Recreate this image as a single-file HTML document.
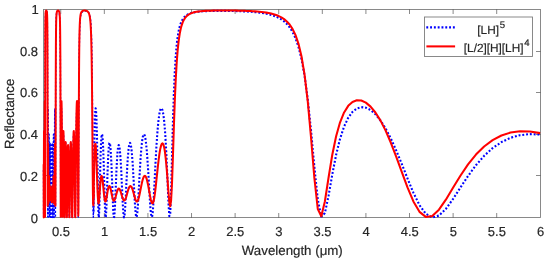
<!DOCTYPE html>
<html lang="en"><head><meta charset="utf-8"><title>Reflectance</title>
<style>html,body{margin:0;padding:0;background:#fff;width:550px;height:263px;overflow:hidden}</style>
</head><body>
<svg width="550" height="263" viewBox="0 0 550 263" style="position:absolute;left:0;top:0">
<rect x="0" y="0" width="550" height="263" fill="#fff"/>
<defs><clipPath id="c"><rect x="42.2" y="8.2" width="499.6" height="210.6"/></clipPath></defs>
<rect x="43.5" y="9.5" width="497.0" height="208.0" fill="none" stroke="#262626" stroke-width="0.9" stroke-opacity="0.6"/>
<path d="M60.74 217.5v-4.5 M60.74 9.5v4.5 M104.34 217.5v-4.5 M104.34 9.5v4.5 M147.93 217.5v-4.5 M147.93 9.5v4.5 M191.53 217.5v-4.5 M191.53 9.5v4.5 M235.12 217.5v-4.5 M235.12 9.5v4.5 M278.72 217.5v-4.5 M278.72 9.5v4.5 M322.32 217.5v-4.5 M322.32 9.5v4.5 M365.91 217.5v-4.5 M365.91 9.5v4.5 M409.51 217.5v-4.5 M409.51 9.5v4.5 M453.11 217.5v-4.5 M453.11 9.5v4.5 M496.70 217.5v-4.5 M496.70 9.5v4.5 M43.5 175.50h4.5 M540.5 175.50h-4.5 M43.5 134.50h4.5 M540.5 134.50h-4.5 M43.5 92.50h4.5 M540.5 92.50h-4.5 M43.5 51.50h4.5 M540.5 51.50h-4.5" stroke="#262626" stroke-width="0.9" stroke-opacity="0.6" fill="none"/>
<g clip-path="url(#c)" fill="none" stroke-linejoin="round">
<polyline points="43.51,170.01 43.53,179.12 43.56,188.83 43.59,198.45 43.61,207.07 43.64,213.61 43.67,217.11 43.69,216.93 43.72,213.03 43.75,205.95 43.77,196.66 43.80,186.23 43.83,175.65 43.85,165.66 43.88,156.76 43.91,149.23 43.93,143.18 43.96,138.68 43.99,135.72 44.02,134.30 44.04,134.43 44.07,136.13 44.10,139.44 44.12,144.43 44.15,151.12 44.18,159.51 44.21,169.47 44.23,180.63 44.26,192.27 44.29,203.25 44.32,212.01 44.35,216.91 44.37,216.71 44.40,211.12 44.43,200.96 44.46,187.82 44.49,173.46 44.51,159.36 44.54,146.48 44.57,135.36 44.60,126.18 44.63,118.97 44.66,113.66 44.68,110.19 44.71,108.52 44.74,108.69 44.77,110.82 44.80,115.14 44.83,121.99 44.86,131.86 44.89,145.24 44.92,162.43 44.94,182.72 44.97,203.01 45.00,216.27 45.03,213.45 45.06,191.25 45.09,157.17 45.12,122.42 45.15,93.58 45.18,71.91 45.21,56.29 45.24,45.14 45.27,37.14 45.30,31.32 45.33,27.03 45.36,23.80 45.39,21.35 45.42,19.44 45.45,17.95 45.48,16.77 45.51,15.81 45.54,15.04 45.57,14.41 45.60,13.88 45.63,13.44 45.66,13.07 45.69,12.76 45.72,12.50 45.75,12.27 45.79,12.08 45.82,11.91 45.85,11.77 45.88,11.64 45.91,11.53 45.94,11.44 45.97,11.36 46.00,11.29 46.04,11.23 46.07,11.17 46.10,11.13 46.13,11.09 46.16,11.06 46.19,11.04 46.23,11.02 46.26,11.00 46.29,11.00 46.32,10.99 46.35,11.00 46.39,11.00 46.42,11.02 46.45,11.03 46.48,11.06 46.52,11.09 46.55,11.12 46.58,11.17 46.61,11.22 46.65,11.28 46.68,11.35 46.71,11.43 46.75,11.52 46.78,11.63 46.81,11.75 46.85,11.89 46.88,12.06 46.91,12.25 46.95,12.47 46.98,12.73 47.01,13.04 47.05,13.40 47.08,13.83 47.11,14.34 47.15,14.96 47.18,15.72 47.22,16.65 47.25,17.80 47.28,19.26 47.32,21.10 47.35,23.49 47.39,26.61 47.42,30.77 47.46,36.39 47.49,44.10 47.53,54.84 47.56,69.89 47.60,90.80 47.63,118.84 47.67,153.14 47.70,187.81 47.74,211.87 47.77,216.88 47.81,204.97 47.84,185.05 47.88,164.54 47.91,146.94 47.95,133.14 47.99,122.92 48.02,115.75 48.06,111.18 48.09,108.82 48.13,108.44 48.17,109.91 48.20,113.18 48.24,118.28 48.28,125.28 48.31,134.23 48.35,145.15 48.39,157.84 48.42,171.85 48.46,186.24 48.50,199.60 48.54,210.18 48.57,216.33 48.61,217.13 48.65,212.75 48.68,204.33 48.72,193.52 48.76,181.89 48.80,170.64 48.84,160.53 48.87,151.96 48.91,145.07 48.95,139.90 48.99,136.41 49.03,134.54 49.07,134.24 49.10,135.48 49.14,138.27 49.18,142.60 49.22,148.48 49.26,155.85 49.30,164.61 49.34,174.49 49.38,185.03 49.42,195.52 49.45,204.99 49.49,212.36 49.53,216.64 49.57,217.24 49.61,214.13 49.65,207.88 49.69,199.45 49.73,189.89 49.77,180.15 49.81,170.96 49.85,162.78 49.89,155.89 49.94,150.42 49.98,146.41 50.02,143.88 50.06,142.80 50.10,143.18 50.14,145.00 50.18,148.26 50.22,152.95 50.26,159.05 50.31,166.44 50.35,174.95 50.39,184.21 50.43,193.69 50.47,202.63 50.51,210.13 50.56,215.28 50.60,217.36 50.64,216.09 50.68,211.67 50.73,204.75 50.77,196.22 50.81,186.99 50.85,177.84 50.90,169.35 50.94,161.89 50.98,155.70 51.03,150.87 51.07,147.45 51.11,145.46 51.16,144.89 51.20,145.74 51.25,148.01 51.29,151.70 51.33,156.80 51.38,163.25 51.42,170.93 51.47,179.60 51.51,188.82 51.56,198.00 51.60,206.31 51.65,212.82 51.69,216.69 51.74,217.32 51.78,214.61 51.83,208.94 51.87,201.09 51.92,191.96 51.96,182.46 52.01,173.30 52.06,164.97 52.10,157.80 52.15,151.97 52.20,147.54 52.24,144.54 52.29,143.00 52.34,142.90 52.38,144.24 52.43,147.06 52.48,151.34 52.52,157.09 52.57,164.24 52.62,172.64 52.67,181.98 52.71,191.75 52.76,201.18 52.81,209.29 52.86,215.02 52.91,217.45 52.95,216.14 53.00,211.21 53.05,203.35 53.10,193.61 53.15,183.04 53.20,172.57 53.25,162.87 53.30,154.36 53.35,147.26 53.40,141.67 53.45,137.63 53.50,135.13 53.55,134.18 53.60,134.77 53.65,136.95 53.70,140.75 53.75,146.25 53.80,153.46 53.85,162.34 53.90,172.71 53.95,184.11 54.00,195.69 54.06,206.18 54.11,213.96 54.16,217.42 54.21,215.59 54.26,208.49 54.31,197.25 54.37,183.56 54.42,169.14 54.47,155.33 54.53,142.94 54.58,132.39 54.63,123.80 54.68,117.17 54.74,112.42 54.79,109.49 54.85,108.37 54.90,109.11 54.95,111.87 55.01,116.90 55.06,124.61 55.12,135.48 55.17,150.01 55.23,168.28 55.28,189.07 55.34,208.17 55.39,217.46 55.45,208.64 55.50,181.66 55.56,146.30 55.61,112.93 55.67,86.28 55.73,66.60 55.78,52.49 55.84,42.42 55.90,35.17 55.95,29.87 56.01,25.94 56.07,22.98 56.13,20.71 56.18,18.95 56.24,17.56 56.30,16.45 56.36,15.56 56.42,14.83 56.47,14.23 56.53,13.73 56.59,13.32 56.65,12.97 56.71,12.67 56.77,12.42 56.83,12.21 56.89,12.02 56.95,11.86 57.01,11.72 57.07,11.60 57.13,11.50 57.19,11.41 57.25,11.33 57.31,11.26 57.37,11.21 57.43,11.16 57.50,11.11 57.56,11.08 57.62,11.05 57.68,11.03 57.74,11.01 57.81,11.00 57.87,10.99 57.93,10.99 57.99,11.00 58.06,11.00 58.12,11.02 58.19,11.04 58.25,11.06 58.31,11.10 58.38,11.13 58.44,11.18 58.51,11.23 58.57,11.30 58.64,11.37 58.70,11.45 58.77,11.55 58.83,11.66 58.90,11.79 58.97,11.93 59.03,12.11 59.10,12.31 59.17,12.54 59.23,12.81 59.30,13.13 59.37,13.51 59.44,13.96 59.50,14.50 59.57,15.16 59.64,15.96 59.71,16.95 59.78,18.18 59.85,19.74 59.92,21.73 59.98,24.30 60.05,27.69 60.12,32.22 60.19,38.37 60.26,46.86 60.34,58.71 60.41,75.30 60.48,98.22 60.55,128.35 60.62,163.66 60.69,196.48 60.76,215.44 60.84,214.79 60.91,199.56 60.98,178.86 61.05,158.99 61.13,142.49 61.20,129.78 61.27,120.50 61.35,114.15 61.42,110.25 61.50,108.50 61.57,108.67 61.65,110.67 61.72,114.48 61.80,120.13 61.87,127.70 61.95,137.24 62.03,148.71 62.10,161.86 62.18,176.10 62.26,190.36 62.33,203.10 62.41,212.52 62.49,217.15 62.57,216.35 62.65,210.62 62.72,201.32 62.80,190.11 62.88,178.49 62.96,167.51 63.04,157.83 63.12,149.74 63.20,143.37 63.28,138.70 63.36,135.69 63.44,134.28 63.53,134.44 63.61,136.15 63.69,139.39 63.77,144.18 63.85,150.51 63.94,158.31 64.02,167.44 64.10,177.57 64.19,188.19 64.27,198.48 64.36,207.45 64.44,214.00 64.53,217.23 64.61,216.70 64.70,212.58 64.78,205.58 64.87,196.70 64.96,186.99 65.04,177.36 65.13,168.42 65.22,160.60 65.31,154.12 65.39,149.08 65.48,145.51 65.57,143.41 65.66,142.77 65.75,143.57 65.84,145.82 65.93,149.51 66.02,154.62 66.11,161.12 66.20,168.87 66.29,177.65 66.38,187.05 66.48,196.46 66.57,205.08 66.66,211.98 66.76,216.29 66.85,217.40 66.94,215.16 67.04,209.92 67.13,202.42 67.23,193.59 67.32,184.31 67.42,175.30 67.51,167.08 67.61,159.98 67.71,154.18 67.81,149.76 67.90,146.77 68.00,145.19 68.10,145.04 68.20,146.31 68.30,149.00 68.40,153.11 68.50,158.62 68.60,165.46 68.70,173.46 68.80,182.34 68.90,191.62 69.00,200.63 69.10,208.50 69.21,214.30 69.31,217.24 69.41,216.87 69.52,213.21 69.62,206.80 69.73,198.47 69.83,189.14 69.94,179.68 70.04,170.72 70.15,162.71 70.26,155.93 70.36,150.50 70.47,146.50 70.58,143.94 70.69,142.82 70.80,143.15 70.91,144.93 71.02,148.18 71.13,152.91 71.24,159.08 71.35,166.63 71.46,175.35 71.57,184.88 71.69,194.64 71.80,203.78 71.91,211.29 72.03,216.12 72.14,217.46 72.26,215.02 72.37,209.13 72.49,200.59 72.61,190.49 72.72,179.87 72.84,169.57 72.96,160.19 73.08,152.08 73.20,145.43 73.32,140.30 73.44,136.72 73.56,134.68 73.68,134.19 73.80,135.25 73.92,137.91 74.04,142.21 74.17,148.22 74.29,155.94 74.42,165.30 74.54,176.04 74.67,187.60 74.79,199.02 74.92,208.87 75.05,215.51 75.17,217.45 75.30,213.97 75.43,205.47 75.56,193.30 75.69,179.22 75.82,164.86 75.95,151.40 76.08,139.54 76.22,129.57 76.35,121.58 76.48,115.52 76.62,111.32 76.75,108.93 76.89,108.36 77.02,109.69 77.16,113.11 77.30,118.91 77.43,127.52 77.57,139.46 77.71,155.17 77.85,174.45 77.99,195.37 78.13,212.50 78.27,216.91 78.42,201.95 78.56,171.08 78.70,135.42 78.85,103.86 78.99,79.45 79.14,61.67 79.28,48.96 79.43,39.88 79.58,33.31 79.73,28.49 79.88,24.90 80.03,22.18 80.18,20.09 80.33,18.46 80.48,17.17 80.63,16.13 80.79,15.30 80.94,14.61 81.10,14.05 81.25,13.58 81.41,13.19 81.57,12.86 81.73,12.58 81.88,12.34 82.04,12.14 82.21,11.96 82.37,11.81 82.53,11.67 82.69,11.56 82.86,11.46 83.02,11.38 83.19,11.30 83.35,11.24 83.52,11.18 83.69,11.13 83.86,11.09 84.03,11.06 84.20,11.03 84.37,11.01 84.54,11.00 84.71,10.99 84.89,10.98 85.06,10.98 85.24,10.99 85.41,11.00 85.59,11.01 85.77,11.04 85.95,11.06 86.13,11.10 86.31,11.14 86.50,11.18 86.68,11.24 86.86,11.30 87.05,11.38 87.23,11.47 87.42,11.57 87.61,11.68 87.80,11.81 87.99,11.97 88.18,12.15 88.37,12.35 88.57,12.59 88.76,12.88 88.96,13.21 89.15,13.61 89.35,14.08 89.55,14.65 89.75,15.34 89.95,16.19 90.15,17.23 90.36,18.54 90.56,20.20 90.77,22.33 90.98,25.09 91.18,28.75 91.39,33.66 91.60,40.36 91.81,49.64 92.03,62.63 92.24,80.80 92.46,105.69 92.67,137.67 92.89,173.37 93.11,203.52 93.33,217.19 93.55,211.63 93.77,193.99" stroke="#0000ff" stroke-width="1.45" stroke-dasharray="1.9 1.9"/>
<polyline points="93.55,211.63 93.77,193.99 94.00,173.04 94.22,153.96 94.45,138.51 94.68,126.81 94.91,118.40 95.14,112.77 95.37,109.51 95.60,108.31 95.84,109.01 96.08,111.52 96.31,115.84 96.55,122.04 96.79,130.17 97.04,140.27 97.28,152.26 97.53,165.81 97.77,180.19 98.02,194.21 98.27,206.19 98.52,214.38 98.77,217.48 99.03,215.18 99.29,208.27 99.54,198.25 99.80,186.78 100.06,175.25 100.33,164.59 100.59,155.34 100.86,147.74 101.12,141.85 101.39,137.67 101.66,135.12 101.94,134.17 102.21,134.78 102.49,136.92 102.77,140.61 103.05,145.85 103.33,152.61 103.61,160.81 103.90,170.27 104.19,180.62 104.47,191.23 104.77,201.26 105.06,209.64 105.35,215.31 105.65,217.48 105.95,215.88 106.25,210.83 106.56,203.18 106.86,193.96 107.17,184.19 107.48,174.70 107.79,166.06 108.11,158.61 108.42,152.54 108.74,147.92 109.06,144.78 109.38,143.10 109.71,142.88 110.04,144.10 110.37,146.76 110.70,150.87 111.03,156.39 111.37,163.27 111.71,171.35 112.05,180.36 112.40,189.84 112.74,199.11 113.09,207.34 113.44,213.57 113.80,217.00 114.16,217.13 114.52,213.97 114.88,207.99 115.24,200.02 115.61,190.97 115.98,181.70 116.36,172.88 116.73,164.96 117.11,158.22 117.49,152.81 117.88,148.81 118.27,146.22 118.66,145.06 119.05,145.32 119.45,147.00 119.85,150.10 120.25,154.62 120.66,160.52 121.07,167.72 121.48,176.01 121.90,185.05 122.32,194.33 122.74,203.09 123.17,210.44 123.60,215.47 124.04,217.47 124.47,216.11 124.91,211.58 125.36,204.51 125.81,195.80 126.26,186.37 126.71,177.00 127.17,168.29 127.64,160.62 128.10,154.23 128.58,149.22 129.05,145.64 129.53,143.50 130.01,142.81 130.50,143.56 130.99,145.78 131.49,149.46 131.99,154.62 132.50,161.21 133.00,169.12 133.52,178.13 134.04,187.80 134.56,197.47 135.09,206.23 135.62,213.04 136.16,216.89 136.70,217.11 137.25,213.59 137.80,206.80 138.36,197.69 138.92,187.32 139.49,176.72 140.06,166.64 140.64,157.61 141.23,149.92 141.82,143.72 142.41,139.06 143.01,135.94 143.62,134.37 144.23,134.34 144.85,135.88 145.48,139.03 146.11,143.85 146.75,150.39 147.39,158.63 148.04,168.46 148.70,179.55 149.36,191.20 150.03,202.31 150.71,211.36 151.39,216.67 152.08,216.93 152.78,211.76 153.49,201.89 154.20,188.88 154.92,174.51 155.65,160.29 156.38,147.26 157.13,135.95 157.88,126.60 158.64,119.22 159.41,113.76 160.18,110.15 160.97,108.35 161.76,108.40 162.56,110.40 163.37,114.59 164.19,121.31 165.02,131.05 165.86,144.32 166.71,161.46 167.57,181.82 168.44,202.38 169.32,216.09 170.21,213.64 171.11,191.42 172.02,157.01 172.94,121.93 173.87,92.90 174.81,71.19 175.77,55.60 176.73,44.51 177.71,36.58 178.70,30.83 179.70,26.59 180.72,23.42 181.74,21.00 182.78,19.14 183.84,17.68 184.90,16.52 185.99,15.59 187.08,14.83 188.19,14.21 189.31,13.70 190.45,13.27 191.61,12.91 192.78,12.61 193.96,12.35 195.16,12.13 196.38,11.95 197.62,11.78 198.87,11.64 200.14,11.52 201.43,11.41 202.73,11.32 204.05,11.24 205.40,11.17 206.76,11.11 208.14,11.06 209.55,11.02 210.97,10.98 212.42,10.95 213.88,10.92 215.37,10.90 216.88,10.89 218.42,10.88 219.98,10.88 221.56,10.87 223.17,10.88 224.80,10.89 226.46,10.90 228.15,10.92 229.86,10.95 231.60,10.98 233.37,11.01 235.17,11.06 237.00,11.11 238.87,11.17 240.76,11.24 242.69,11.32 244.64,11.41 246.64,11.52 248.67,11.64 250.73,11.78 252.84,11.94 254.98,12.14 257.16,12.36 259.38,12.62 261.64,12.93 263.94,13.30 266.29,13.73 268.69,14.26 271.13,14.90 273.61,15.68 276.15,16.65 278.74,17.86 281.38,19.39 284.07,21.35 286.82,23.91 289.63,27.29 292.50,31.83 295.43,38.03 298.42,46.64 301.47,58.75 304.59,75.84 307.78,99.57 311.05,130.81 314.39,167.06 317.80,199.62 321.29,216.52 324.87,213.10 328.53,195.94 332.28,174.54 336.12,154.77 340.06,138.71 344.09,126.55 348.23,117.80 352.47,111.93 356.82,108.47 361.29,107.12 365.87,107.68 370.58,110.06 375.42,114.26 380.39,120.34 385.51,128.36 390.77,138.37 396.18,150.32 401.75,163.90 407.49,178.42 413.40,192.71 419.49,205.11 425.78,213.80 432.26,217.42 438.95,215.56 445.86,208.93 453.01,199.05 460.39,187.60 468.03,176.00 475.94,165.24 484.12,155.86 492.61,148.14 501.41,142.13 510.55,137.83 520.03,135.17 529.89,134.09 540.14,134.57" stroke="#0000ff" stroke-width="2.1" stroke-dasharray="1.9 1.9"/>
<polyline points="43.51,164.36 43.53,172.80 43.56,182.15 43.59,191.91 43.61,201.32 43.64,209.39 43.67,215.06 43.69,217.44 43.72,216.05 43.75,211.01 43.77,203.01 43.80,193.07 43.83,182.27 43.85,171.56 43.88,161.59 43.91,152.80 43.93,145.42 43.96,139.54 43.99,135.21 44.02,132.40 44.04,131.12 44.07,131.38 44.10,133.20 44.12,136.66 44.15,141.81 44.18,148.73 44.21,157.42 44.23,167.78 44.26,179.44 44.29,191.65 44.32,203.16 44.35,212.23 44.37,216.99 44.40,216.09 44.43,209.28 44.46,197.64 44.49,183.05 44.51,167.50 44.54,152.55 44.57,139.15 44.60,127.76 44.63,118.49 44.66,111.29 44.68,106.06 44.71,102.70 44.74,101.19 44.77,101.56 44.80,103.97 44.83,108.71 44.86,116.26 44.89,127.27 44.92,142.50 44.94,162.37 44.97,185.83 45.00,207.68 45.03,216.84 45.06,202.54 45.09,167.97 45.12,128.28 45.15,94.83 45.18,70.37 45.21,53.45 45.24,41.85 45.27,33.84 45.30,28.22 45.33,24.18 45.36,21.23 45.39,19.03 45.42,17.36 45.45,16.08 45.48,15.07 45.51,14.28 45.54,13.64 45.57,13.13 45.60,12.70 45.63,12.36 45.66,12.07 45.69,11.83 45.72,11.62 45.75,11.45 45.79,11.30 45.82,11.18 45.85,11.07 45.88,10.98 45.91,10.90 45.94,10.83 45.97,10.78 46.00,10.73 46.04,10.69 46.07,10.65 46.10,10.63 46.13,10.60 46.16,10.59 46.19,10.57 46.23,10.57 46.26,10.57 46.29,10.57 46.32,10.58 46.35,10.59 46.39,10.60 46.42,10.63 46.45,10.65 46.48,10.69 46.52,10.73 46.55,10.77 46.58,10.83 46.61,10.89 46.65,10.96 46.68,11.05 46.71,11.15 46.75,11.26 46.78,11.39 46.81,11.54 46.85,11.72 46.88,11.93 46.91,12.17 46.95,12.46 46.98,12.80 47.01,13.21 47.05,13.69 47.08,14.28 47.11,15.00 47.15,15.88 47.18,16.97 47.22,18.34 47.25,20.07 47.28,22.29 47.32,25.16 47.35,28.91 47.39,33.88 47.42,40.53 47.46,49.49 47.49,61.58 47.53,77.75 47.56,98.79 47.60,124.65 47.63,153.25 47.67,179.87 47.70,198.52 47.74,205.72 47.77,202.61 47.81,193.25 47.84,181.67 47.88,170.50 47.91,161.01 47.95,153.64 47.99,148.40 48.02,145.18 48.06,143.80 48.09,144.09 48.13,145.91 48.17,149.11 48.20,153.54 48.24,159.03 48.28,165.35 48.31,172.22 48.35,179.28 48.39,186.09 48.42,192.21 48.46,197.20 48.50,200.73 48.54,202.63 48.57,202.89 48.61,201.68 48.65,199.30 48.68,196.13 48.72,192.52 48.76,188.82 48.80,185.31 48.84,182.20 48.87,179.64 48.91,177.72 48.95,176.49 48.99,175.98 49.03,176.17 49.07,177.02 49.10,178.47 49.14,180.44 49.18,182.84 49.22,185.54 49.26,188.40 49.30,191.27 49.34,193.99 49.38,196.40 49.42,198.38 49.45,199.81 49.49,200.63 49.53,200.83 49.57,200.44 49.61,199.51 49.65,198.17 49.69,196.53 49.73,194.72 49.77,192.86 49.81,191.09 49.85,189.49 49.89,188.15 49.94,187.12 49.98,186.44 50.02,186.14 50.06,186.22 50.10,186.65 50.14,187.42 50.18,188.47 50.22,189.75 50.26,191.18 50.31,192.69 50.35,194.19 50.39,195.60 50.43,196.83 50.47,197.81 50.51,198.48 50.56,198.81 50.60,198.79 50.64,198.42 50.68,197.74 50.73,196.80 50.77,195.66 50.81,194.41 50.85,193.13 50.90,191.88 50.94,190.75 50.98,189.79 51.03,189.06 51.07,188.61 51.11,188.45 51.16,188.60 51.20,189.07 51.25,189.83 51.29,190.86 51.33,192.12 51.38,193.56 51.42,195.10 51.47,196.68 51.51,198.19 51.56,199.57 51.60,200.72 51.65,201.56 51.69,202.04 51.74,202.11 51.78,201.77 51.83,201.02 51.87,199.91 51.92,198.48 51.96,196.84 52.01,195.05 52.06,193.23 52.10,191.46 52.15,189.84 52.20,188.45 52.24,187.34 52.29,186.59 52.34,186.21 52.38,186.24 52.43,186.69 52.48,187.53 52.52,188.75 52.57,190.29 52.62,192.07 52.67,194.01 52.71,196.00 52.76,197.90 52.81,199.58 52.86,200.90 52.91,201.74 52.95,202.00 53.00,201.61 53.05,200.57 53.10,198.90 53.15,196.69 53.20,194.07 53.25,191.18 53.30,188.18 53.35,185.24 53.40,182.52 53.45,180.14 53.50,178.23 53.55,176.89 53.60,176.18 53.65,176.16 53.70,176.86 53.75,178.29 53.80,180.42 53.85,183.18 53.90,186.47 53.95,190.13 54.00,193.91 54.06,197.53 54.11,200.62 54.16,202.81 54.21,203.73 54.26,203.11 54.31,200.82 54.37,196.88 54.42,191.54 54.47,185.16 54.53,178.19 54.58,171.08 54.63,164.25 54.68,158.04 54.74,152.73 54.79,148.54 54.85,145.61 54.90,144.11 54.95,144.17 55.01,145.94 55.06,149.59 55.12,155.30 55.17,163.16 55.23,173.11 55.28,184.56 55.34,196.01 55.39,204.51 55.45,205.83 55.50,196.24 55.56,175.51 55.61,147.95 55.67,119.53 55.73,94.49 55.78,74.41 55.84,59.08 55.90,47.65 55.95,39.18 56.01,32.89 56.07,28.17 56.13,24.60 56.18,21.87 56.24,19.75 56.30,18.09 56.36,16.78 56.42,15.73 56.47,14.88 56.53,14.18 56.59,13.61 56.65,13.14 56.71,12.75 56.77,12.42 56.83,12.14 56.89,11.90 56.95,11.70 57.01,11.52 57.07,11.37 57.13,11.24 57.19,11.13 57.25,11.04 57.31,10.95 57.37,10.88 57.43,10.82 57.50,10.77 57.56,10.72 57.62,10.68 57.68,10.65 57.74,10.62 57.81,10.60 57.87,10.58 57.93,10.57 57.99,10.57 58.06,10.56 58.12,10.57 58.19,10.57 58.25,10.59 58.31,10.60 58.38,10.63 58.44,10.66 58.51,10.69 58.57,10.73 58.64,10.78 58.70,10.84 58.77,10.91 58.83,10.99 58.90,11.08 58.97,11.19 59.03,11.32 59.10,11.47 59.17,11.64 59.23,11.85 59.30,12.10 59.37,12.40 59.44,12.76 59.50,13.19 59.57,13.72 59.64,14.38 59.71,15.21 59.78,16.25 59.85,17.59 59.92,19.33 59.98,21.64 60.05,24.75 60.12,29.02 60.19,35.00 60.26,43.54 60.34,55.95 60.41,74.09 60.48,100.19 60.55,135.30 60.62,175.34 60.69,207.27 60.76,216.83 60.84,204.12 60.91,181.13 60.98,158.04 61.05,139.00 61.13,124.62 61.20,114.33 61.27,107.37 61.35,103.11 61.42,101.13 61.50,101.15 61.57,103.04 61.65,106.77 61.72,112.39 61.80,120.01 61.87,129.73 61.95,141.58 62.03,155.38 62.10,170.60 62.18,186.15 62.26,200.36 62.33,211.18 62.41,216.84 62.49,216.50 62.57,210.67 62.65,200.90 62.72,189.07 62.80,176.86 62.88,165.39 62.96,155.34 63.04,147.00 63.12,140.46 63.20,135.66 63.28,132.56 63.36,131.07 63.44,131.15 63.53,132.75 63.61,135.89 63.69,140.57 63.77,146.78 63.85,154.48 63.94,163.57 64.02,173.76 64.10,184.58 64.19,195.30 64.27,204.93 64.36,212.39 64.44,216.69 64.53,217.26 64.61,214.10 64.70,207.80 64.78,199.34 64.87,189.77 64.96,180.03 65.04,170.83 65.13,162.63 65.22,155.69 65.31,150.14 65.39,146.03 65.48,143.36 65.57,142.11 65.66,142.26 65.75,143.81 65.84,146.75 65.93,151.09 66.02,156.79 66.11,163.78 66.20,171.90 66.29,180.88 66.38,190.27 66.48,199.40 66.57,207.46 66.66,213.56 66.76,216.94 66.85,217.14 66.94,214.15 67.04,208.41 67.13,200.70 67.23,191.88 67.32,182.78 67.42,174.05 67.51,166.12 67.61,159.31 67.71,153.75 67.81,149.53 67.90,146.67 68.00,145.17 68.10,145.04 68.20,146.27 68.30,148.86 68.40,152.82 68.50,158.12 68.60,164.70 68.70,172.43 68.80,181.04 68.90,190.12 69.00,199.05 69.10,207.06 69.21,213.25 69.31,216.83 69.41,217.28 69.52,214.51 69.62,208.89 69.73,201.14 69.83,192.15 69.94,182.76 70.04,173.66 70.15,165.34 70.26,158.10 70.36,152.14 70.47,147.53 70.58,144.31 70.69,142.48 70.80,142.05 70.91,143.03 71.02,145.42 71.13,149.24 71.24,154.50 71.35,161.17 71.46,169.13 71.57,178.16 71.69,187.83 71.80,197.50 71.91,206.26 72.03,213.07 72.14,216.91 72.26,217.11 72.37,213.53 72.49,206.64 72.61,197.36 72.72,186.79 72.84,175.93 72.96,165.57 73.08,156.25 73.20,148.26 73.32,141.75 73.44,136.77 73.56,133.32 73.68,131.41 73.80,131.02 73.92,132.20 74.04,134.97 74.17,139.41 74.29,145.60 74.42,153.57 74.54,163.28 74.67,174.49 74.79,186.61 74.92,198.62 75.05,208.94 75.17,215.70 75.30,217.22 75.43,212.76 75.56,202.88 75.69,189.21 75.82,173.80 75.95,158.43 76.08,144.30 76.22,132.04 76.35,121.89 76.48,113.86 76.62,107.84 76.75,103.73 76.89,101.47 77.02,101.06 77.16,102.62 77.30,106.38 77.43,112.74 77.57,122.29 77.71,135.76 77.85,153.82 77.99,176.23 78.13,199.81 78.27,215.66 78.42,211.25 78.56,183.07 78.70,143.41 78.85,106.71 78.99,78.77 79.14,59.17 79.28,45.75 79.43,36.53 79.58,30.10 79.73,25.53 79.88,22.21 80.03,19.76 80.18,17.91 80.33,16.50 80.48,15.40 80.63,14.54 80.79,13.85 80.94,13.29 81.10,12.84 81.25,12.46 81.41,12.16 81.57,11.90 81.73,11.68 81.88,11.50 82.04,11.34 82.21,11.21 82.37,11.10 82.53,11.00 82.69,10.92 82.86,10.85 83.02,10.79 83.19,10.74 83.35,10.69 83.52,10.66 83.69,10.63 83.86,10.60 84.03,10.58 84.20,10.57 84.37,10.56 84.54,10.56 84.71,10.56 84.89,10.56 85.06,10.57 85.24,10.59 85.41,10.61 85.59,10.63 85.77,10.66 85.95,10.70 86.13,10.75 86.31,10.80 86.50,10.86 86.68,10.92 86.86,11.00 87.05,11.10 87.23,11.20 87.42,11.33 87.61,11.47 87.80,11.63 87.99,11.83 88.18,12.05 88.37,12.32 88.57,12.64 88.76,13.01 88.96,13.46 89.15,14.00 89.35,14.66 89.55,15.46 89.75,16.45 89.95,17.69 90.15,19.25 90.36,21.23 90.56,23.78 90.77,27.11 90.98,31.49 91.18,37.33 91.39,45.19 91.60,55.79 91.81,70.06 92.03,88.91 92.24,112.80 92.46,140.70 92.67,169.02 92.89,191.94 93.11,204.36 93.33,205.37 93.55,198.14 93.77,187.05" stroke="#ff0000" stroke-width="2.0"/>
<polyline points="93.55,198.14 93.77,187.05 94.00,175.41 94.22,165.03 94.45,156.67 94.68,150.47 94.91,146.36 95.14,144.18 95.37,143.75 95.60,144.92 95.84,147.53 96.08,151.46 96.31,156.53 96.55,162.56 96.79,169.27 97.04,176.35 97.28,183.39 97.53,189.93 97.77,195.53 98.02,199.79 98.27,202.45 98.52,203.43 98.77,202.83 99.03,200.90 99.29,197.98 99.54,194.46 99.80,190.70 100.06,187.02 100.33,183.65 100.59,180.78 100.86,178.52 101.12,176.96 101.39,176.11 101.66,175.98 101.94,176.54 102.21,177.75 102.49,179.54 102.77,181.81 103.05,184.45 103.33,187.32 103.61,190.29 103.90,193.18 104.19,195.83 104.47,198.10 104.77,199.86 105.06,201.01 105.35,201.52 105.65,201.39 105.95,200.67 106.25,199.46 106.56,197.87 106.86,196.04 107.17,194.10 107.48,192.18 107.79,190.40 108.11,188.85 108.42,187.60 108.74,186.71 109.06,186.20 109.38,186.09 109.71,186.38 110.04,187.04 110.37,188.04 110.70,189.33 111.03,190.83 111.37,192.48 111.71,194.18 112.05,195.85 112.40,197.39 112.74,198.71 113.09,199.75 113.44,200.44 113.80,200.74 114.16,200.66 114.52,200.19 114.88,199.39 115.24,198.31 115.61,197.02 115.98,195.61 116.36,194.16 116.73,192.75 117.11,191.47 117.49,190.36 117.88,189.50 118.27,188.91 118.66,188.62 119.05,188.65 119.45,188.99 119.85,189.62 120.25,190.53 120.66,191.65 121.07,192.95 121.48,194.35 121.90,195.76 122.32,197.13 122.74,198.34 123.17,199.34 123.60,200.04 124.04,200.40 124.47,200.37 124.91,199.96 125.36,199.18 125.81,198.06 126.26,196.69 126.71,195.12 127.17,193.46 127.64,191.79 128.10,190.20 128.58,188.78 129.05,187.60 129.53,186.72 130.01,186.19 130.50,186.04 130.99,186.29 131.49,186.94 131.99,187.96 132.50,189.32 133.00,190.96 133.52,192.80 134.04,194.74 134.56,196.66 135.09,198.42 135.62,199.89 136.16,200.94 136.70,201.46 137.25,201.37 137.80,200.62 138.36,199.24 138.92,197.28 139.49,194.84 140.06,192.07 140.64,189.12 141.23,186.16 141.82,183.34 142.41,180.80 143.01,178.69 143.62,177.10 144.23,176.12 144.85,175.80 145.48,176.20 146.11,177.32 146.75,179.17 147.39,181.68 148.04,184.77 148.70,188.31 149.36,192.09 150.03,195.82 150.71,199.19 151.39,201.80 152.08,203.27 152.78,203.28 153.49,201.64 154.20,198.30 154.92,193.43 155.65,187.35 156.38,180.49 157.13,173.32 157.88,166.28 158.64,159.75 159.41,154.03 160.18,149.36 160.97,145.92 161.76,143.86 162.56,143.32 163.37,144.46 164.19,147.44 165.02,152.44 165.86,159.61 166.71,168.96 167.57,180.15 168.44,192.01 169.32,202.06 170.21,206.25 171.11,200.24 172.02,182.39 172.94,155.87 173.87,126.81 174.81,100.32 175.77,78.71 176.73,62.12 177.71,49.75 178.70,40.61 179.70,33.86 180.72,28.82 181.74,25.04 182.78,22.15 183.84,19.93 184.90,18.20 185.99,16.83 187.08,15.74 188.19,14.87 189.31,14.16 190.45,13.57 191.61,13.09 192.78,12.69 193.96,12.36 195.16,12.07 196.38,11.84 197.62,11.63 198.87,11.46 200.14,11.31 201.43,11.18 202.73,11.07 204.05,10.97 205.40,10.89 206.76,10.81 208.14,10.75 209.55,10.70 210.97,10.65 212.42,10.61 213.88,10.58 215.37,10.55 216.88,10.53 218.42,10.51 219.98,10.50 221.56,10.49 223.17,10.48 224.80,10.48 226.46,10.49 228.15,10.50 229.86,10.51 231.60,10.53 233.37,10.55 235.17,10.58 237.00,10.61 238.87,10.65 240.76,10.70 242.69,10.76 244.64,10.83 246.64,10.90 248.67,10.99 250.73,11.10 252.84,11.23 254.98,11.37 257.16,11.54 259.38,11.75 261.64,11.99 263.94,12.28 266.29,12.63 268.69,13.06 271.13,13.58 273.61,14.23 276.15,15.04 278.74,16.07 281.38,17.40 284.07,19.14 286.82,21.44 289.63,24.55 292.50,28.84 295.43,34.88 298.42,43.56 301.47,56.23 304.59,74.84 307.78,101.70 311.05,137.76 314.39,178.25 317.80,209.06 321.29,216.20 324.87,201.50 328.53,177.77 332.28,154.79 336.12,136.18 340.06,122.29 344.09,112.45 348.23,105.86 352.47,101.93 356.82,100.23 361.29,100.51 365.87,102.65 370.58,106.62 375.42,112.50 380.39,120.39 385.51,130.39 390.77,142.51 396.18,156.55 401.75,171.92 407.49,187.47 413.40,201.47 419.49,211.85 425.78,216.92 432.26,215.99 438.95,209.70 445.86,199.68 453.01,187.82 460.39,175.70 468.03,164.42 475.94,154.59 484.12,146.47 492.61,140.13 501.41,135.52 510.55,132.58 520.03,131.23 529.89,131.42 540.14,133.12" stroke="#ff0000" stroke-width="2.05"/>
</g>
<g text-rendering="geometricPrecision" font-family="Liberation Sans, Arial, sans-serif" font-size="13px" fill="#262626" stroke="#262626" stroke-width="0.18">
<text x="60.94" y="236.0" text-anchor="middle">0.5</text>
<text x="104.54" y="236.0" text-anchor="middle">1</text>
<text x="148.13" y="236.0" text-anchor="middle">1.5</text>
<text x="191.73" y="236.0" text-anchor="middle">2</text>
<text x="235.32" y="236.0" text-anchor="middle">2.5</text>
<text x="278.92" y="236.0" text-anchor="middle">3</text>
<text x="322.52" y="236.0" text-anchor="middle">3.5</text>
<text x="366.11" y="236.0" text-anchor="middle">4</text>
<text x="409.71" y="236.0" text-anchor="middle">4.5</text>
<text x="453.31" y="236.0" text-anchor="middle">5</text>
<text x="496.90" y="236.0" text-anchor="middle">5.5</text>
<text x="540.50" y="236.0" text-anchor="middle">6</text>
<text x="38" y="222.90" text-anchor="end">0</text>
<text x="38" y="181.40" text-anchor="end">0.2</text>
<text x="38" y="139.00" text-anchor="end">0.4</text>
<text x="38" y="97.00" text-anchor="end">0.6</text>
<text x="38" y="56.00" text-anchor="end">0.8</text>
<text x="38.7" y="14.40" text-anchor="end">1</text>
</g>
<g text-rendering="geometricPrecision" font-family="Liberation Sans, Arial, sans-serif" font-size="13.3px" fill="#262626" stroke="#262626" stroke-width="0.18">
<text x="292.3" y="254.5" text-anchor="middle">Wavelength (μm)</text>
<text transform="translate(13.8,113.8) rotate(-90)" text-anchor="middle">Reflectance</text>
</g>
<rect x="424.5" y="17" width="108" height="39.5" fill="#fff" stroke="#262626" stroke-width="0.9" stroke-opacity="0.6"/>
<path d="M426.3 27.4H455.2" stroke="#0000ff" stroke-width="2.1" stroke-dasharray="1.9 1.9" fill="none"/>
<path d="M426.4 46.4H455.1" stroke="#ff0000" stroke-width="2.05" fill="none"/>
<g text-rendering="geometricPrecision" font-family="Liberation Sans, Arial, sans-serif" font-size="11.8px" fill="#262626" stroke="#262626" stroke-width="0.18">
<text x="477.3" y="34">[LH]<tspan dx="0.7" dy="-5.6" font-size="9.6px">5</tspan></text>
<text x="463.8" y="52">[L/2][H][LH]<tspan dx="0.7" dy="-5.6" font-size="9.6px">4</tspan></text>
</g>
</svg>
</body></html>
